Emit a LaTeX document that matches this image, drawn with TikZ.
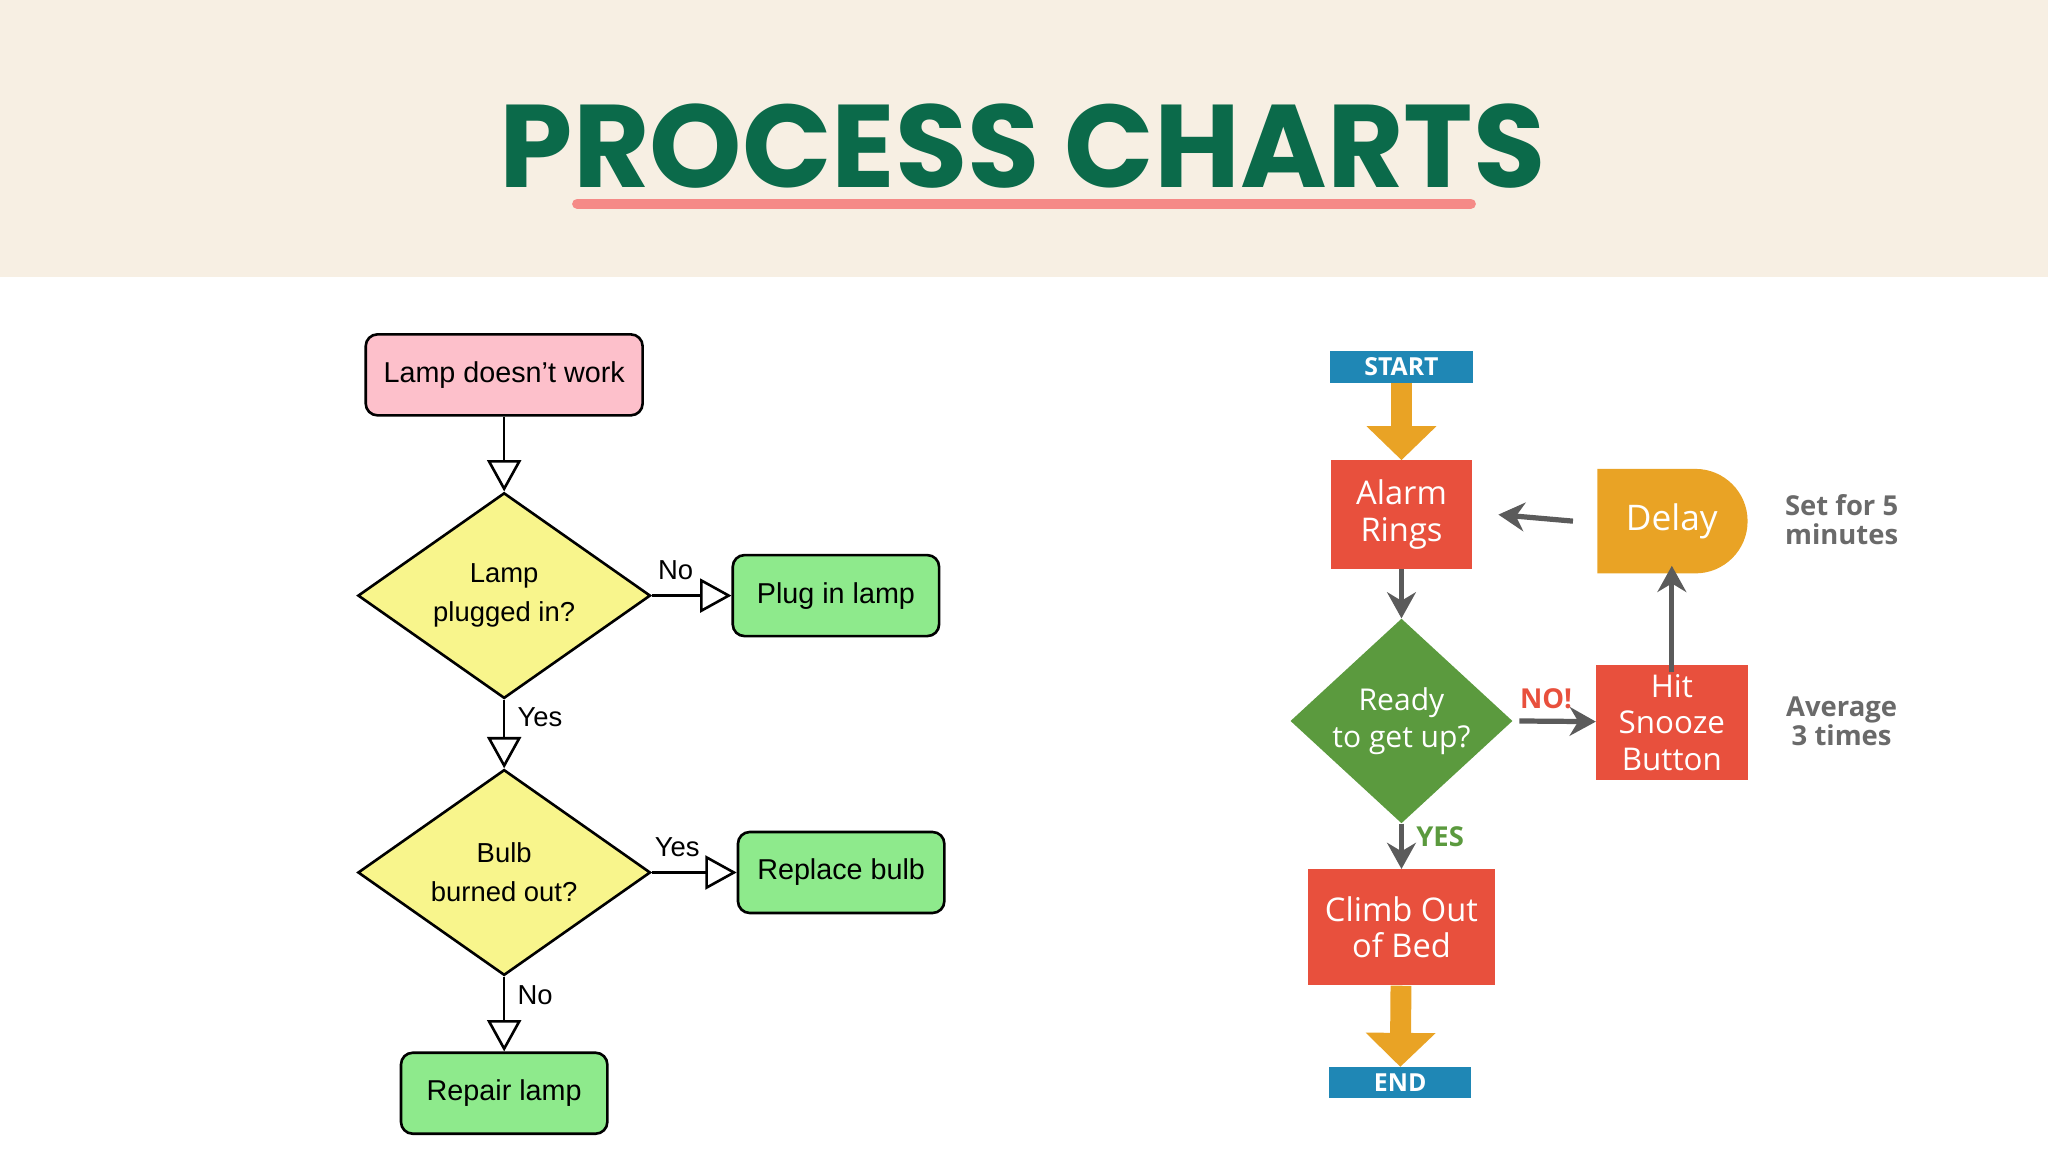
\documentclass[tikz,border=0pt]{standalone}
\usepackage{fontspec}
\setmainfont{Liberation Sans}
\newfontfamily\osans{Open Sans}
\newfontfamily\psans{Poppins}
\usetikzlibrary{shapes.geometric,arrows.meta,positioning}
\definecolor{beige}{HTML}{F7EFE3}
\definecolor{titlegreen}{HTML}{0B6A4A}
\definecolor{pinkline}{HTML}{F58A87}
\definecolor{lamppink}{HTML}{FDC0CB}
\definecolor{lampyellow}{HTML}{F8F58C}
\definecolor{lampgreen}{HTML}{8EEA8C}
\definecolor{boxred}{HTML}{E8503D}
\definecolor{boxorange}{HTML}{E9A325}
\definecolor{boxblue}{HTML}{1F87B5}
\definecolor{boxgreen}{HTML}{5B9A3E}
\definecolor{arrowgray}{HTML}{5B5B5B}
\definecolor{notegray}{HTML}{6A6A6A}
\tikzset{
  task/.style={draw=black, line width=2pt, rounded corners=9pt, minimum width=158pt,
    minimum height=62pt, inner sep=0pt, font=\fontsize{22}{26}\selectfont},
  choice/.style={diamond, draw=black, line width=2pt, fill=lampyellow, minimum width=224pt,
    minimum height=144pt, inner sep=0pt, align=center, font=\fontsize{21}{30}\selectfont},
  flow/.style={line width=2pt, -{Triangle[open, length=24pt, width=26pt, fill=white]}},
  lbl/.style={font=\fontsize{21}{24}\selectfont},
  block/.style={fill=boxred, text=white, inner sep=0pt, align=center,
    font=\osans\fontsize{25}{28}\selectfont},
  term/.style={fill=boxblue, text=white, minimum width=109pt, minimum height=24pt,
    inner sep=0pt, font=\osans\bfseries\fontsize{19}{20}\selectfont},
  fat/.style={boxorange, line width=16pt, -{Triangle[length=26pt, width=52pt]}},
  link/.style={arrowgray, line width=4pt, -{Stealth[length=20pt, width=22pt]}},
  note/.style={text=notegray, align=center, font=\osans\bfseries\fontsize{21}{22}\selectfont}
}
\begin{document}
\begin{tikzpicture}[x=1pt, y=-1pt]
    \useasboundingbox (0,0) rectangle (1568,882);
    % Header
    \fill[beige] (0,0) rectangle (1568,212);
    \node[text=titlegreen, font=\psans\bfseries\fontsize{90}{90}\selectfont] (title) at (783,112) {PROCESS CHARTS};
    \draw[pinkline, line width=8pt, line cap=round] (442,156) -- (1126,156);

    % Lamp chart
    \node[task, fill=lamppink, minimum width=212pt] (broken) at (386,287) {Lamp doesn't work};
    \node[choice] (plugged) at (386,456) {Lamp\\plugged in?};
    \node[task, fill=lampgreen] (plugin) at (640,456) {Plug in lamp};
    \node[choice] (bulb) at (386,668) {Bulb\\burned out?};
    \node[task, fill=lampgreen] (replace) at (644,668) {Replace bulb};
    \node[task, fill=lampgreen] (repair) at (386,837) {Repair lamp};
    \draw[flow] (broken) -- (plugged);
    \draw[flow] (plugged) -- (plugin) node[lbl, pos=0.3, above=8pt] {No};
    \draw[flow] (plugged) -- (bulb) node[lbl, pos=0.25, right=6pt] {Yes};
    \draw[flow] (bulb) -- (replace) node[lbl, pos=0.3, above=8pt] {Yes};
    \draw[flow] (bulb) -- (repair) node[lbl, pos=0.25, right=6pt] {No};

    % Alarm chart
    \node[term] (start) at (1073,281) {START};
    \node[block, minimum width=108pt, minimum height=83pt] (alarm) at (1073,394) {Alarm\\Rings};
    \fill[boxorange] (1223,359) -- (1298,359) arc[start angle=90, end angle=-90, radius=40pt] -- (1223,439) -- cycle;
    \node[text=white, minimum width=115pt, minimum height=80pt, inner sep=0pt,
      font=\osans\fontsize{27}{28}\selectfont] (delay) at (1280,399) {Delay};
    \node[diamond, fill=boxgreen, text=white, minimum width=170pt, minimum height=112pt,
      inner sep=0pt, align=center, font=\osans\fontsize{23}{28}\selectfont] (ready) at (1073,552) {Ready\\to get up?};
    \node[block, minimum width=116pt, minimum height=88pt, font=\osans\fontsize{24}{28}\selectfont] (snooze) at (1280,553) {Hit\\Snooze\\Button};
    \node[block, minimum width=143pt, minimum height=89pt] (climb) at (1073,710) {Climb Out\\of Bed};
    \node[term] (finish) at (1072,829) {END};
    \node[note] (setfor) at (1410,398) {Set for 5\\minutes};
    \node[note] (average) at (1410,552) {Average\\3 times};
    \draw[fat] (start) -- (alarm);
    \draw[fat] (climb) -- (finish);
    \draw[link] ([xshift=-18pt]delay.west) -- ([xshift=20pt]alarm.east);
    \draw[link] (alarm) -- (ready);
    \draw[link] ([xshift=5pt]ready.east) -- (snooze) node[pos=0.35, above=4pt, text=boxred, font=\osans\bfseries\fontsize{21}{22}\selectfont] {NO!};
    \draw[link] ([yshift=-6pt]snooze.north) -- ([yshift=6pt]delay.south);
    \draw[link] (ready) -- (climb) node[pos=0.3, right=6pt, text=boxgreen, font=\osans\bfseries\fontsize{21}{22}\selectfont] {YES};
\end{tikzpicture}
\end{document}
